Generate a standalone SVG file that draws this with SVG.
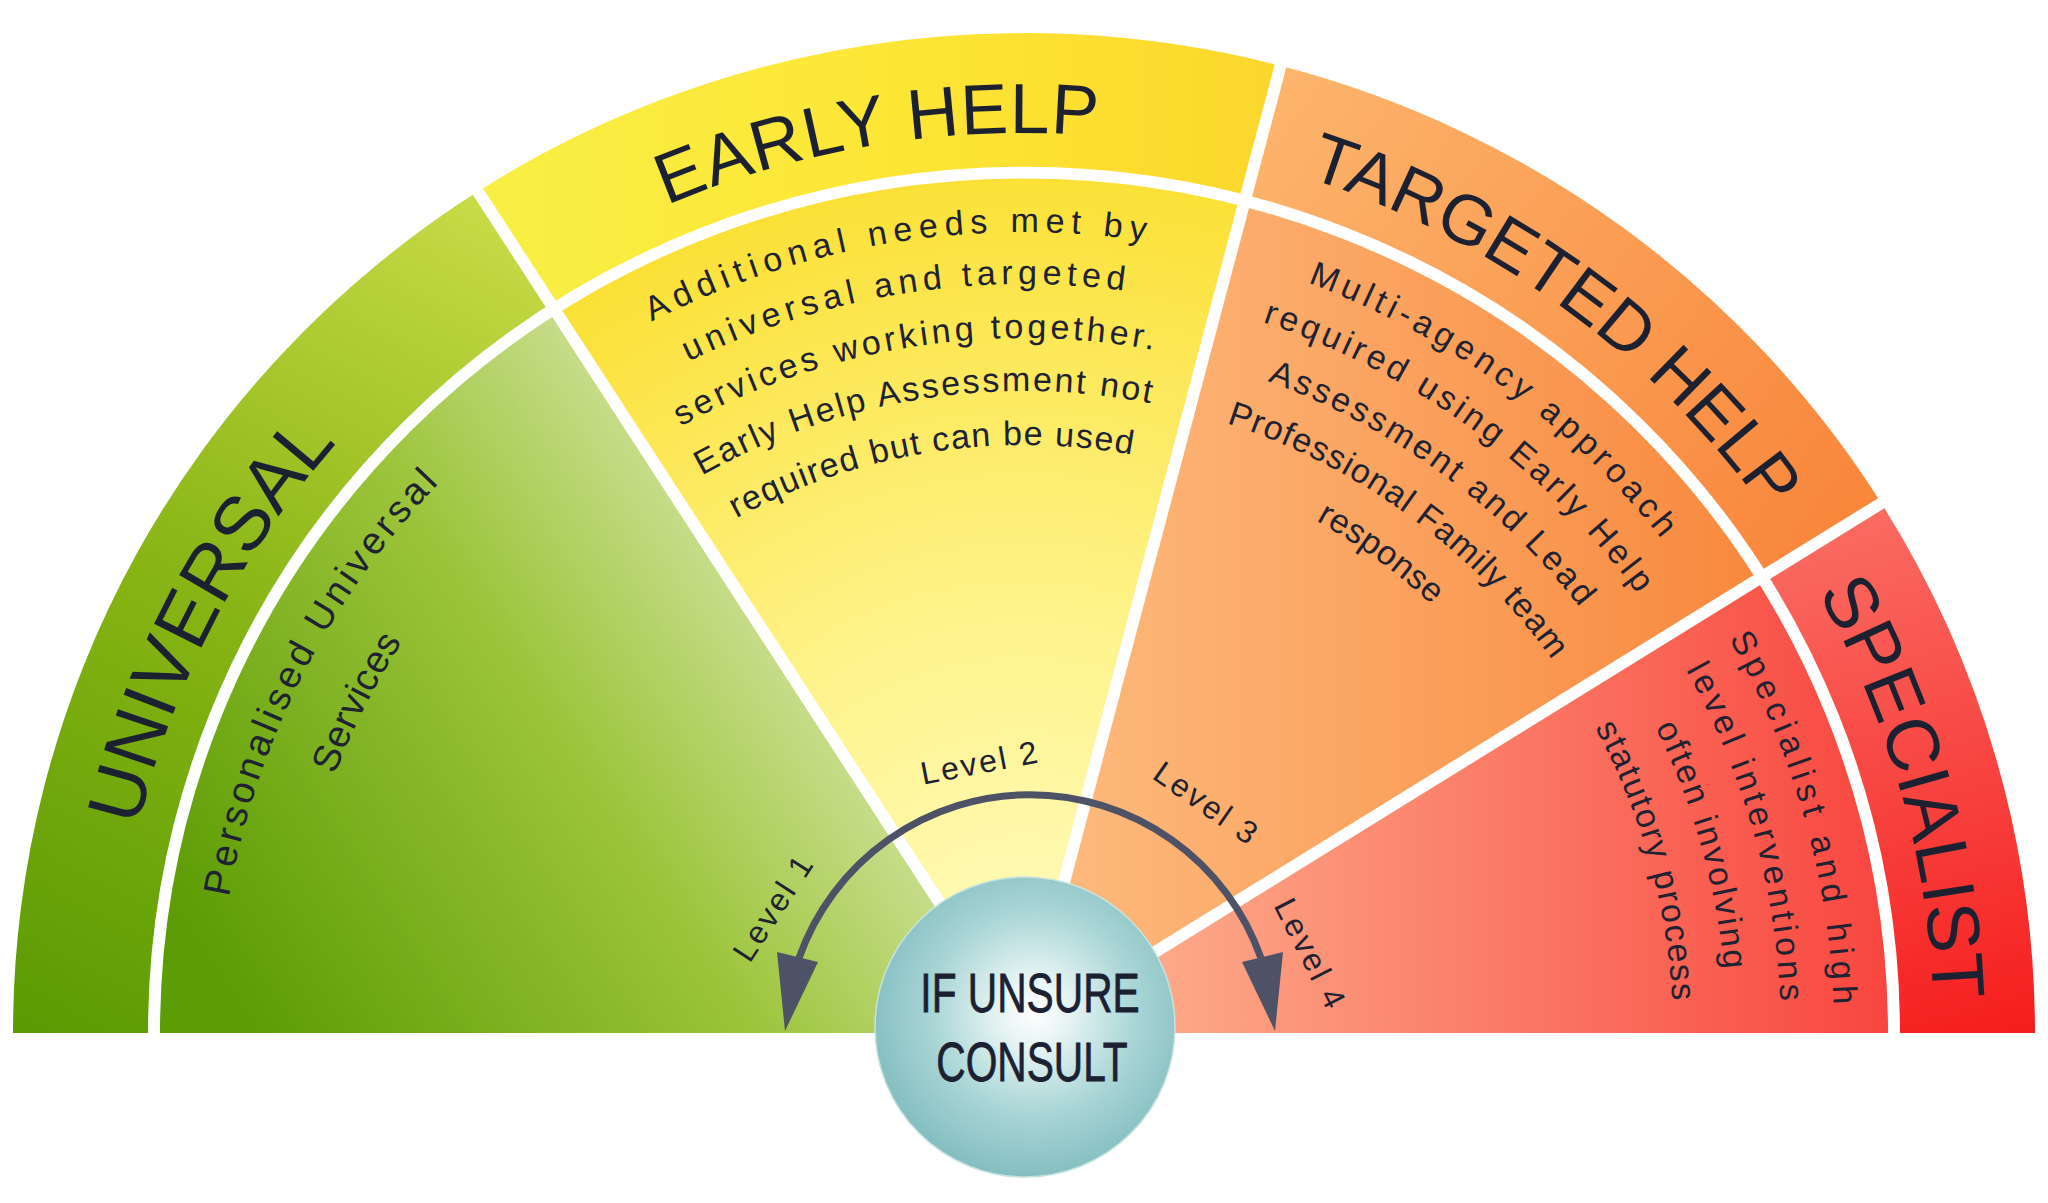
<svg xmlns="http://www.w3.org/2000/svg" width="2048" height="1203" viewBox="0 0 2048 1203">
<style>
.ttl{font-family:"Liberation Sans",Arial,sans-serif;fill:#1c2132;}
.dsc{font-family:"Liberation Sans",Arial,sans-serif;fill:#1e2233;font-size:34px;}
.lvl{font-family:"Liberation Sans",Arial,sans-serif;fill:#1e2233;font-size:32px;letter-spacing:2.5px;}
.ctr{font-family:"Liberation Sans",Arial,sans-serif;fill:#1c2132;font-size:55px;stroke:#1c2132;stroke-width:0.8px;}
.gap{stroke:#ffffff;stroke-width:12;fill:none;}
</style>
<defs>
<linearGradient id="gUb" gradientUnits="userSpaceOnUse" x1="-1011" y1="0" x2="-546" y2="-851">
<stop offset="0" stop-color="#5a9a02"/><stop offset="0.5" stop-color="#88b515"/><stop offset="1" stop-color="#c9db48"/>
</linearGradient>
<linearGradient id="gUd" gradientUnits="userSpaceOnUse" x1="-270" y1="-421" x2="-817" y2="-70">
<stop offset="0" stop-color="#c6dd8a"/><stop offset="0.35" stop-color="#9cc43a"/><stop offset="1" stop-color="#5c9c05"/>
</linearGradient>
<linearGradient id="gEb" gradientUnits="userSpaceOnUse" x1="-546" y1="-900" x2="257" y2="-900">
<stop offset="0" stop-color="#f8ef45"/><stop offset="0.5" stop-color="#fde636"/><stop offset="1" stop-color="#fbd72c"/>
</linearGradient>
<radialGradient id="gEd" gradientUnits="userSpaceOnUse" cx="0" cy="-60" r="820">
<stop offset="0" stop-color="#fffbbd"/><stop offset="0.45" stop-color="#fef38a"/><stop offset="1" stop-color="#fbe034"/>
</radialGradient>
<linearGradient id="gTb" gradientUnits="userSpaceOnUse" x1="257" y1="-978" x2="857" y2="-536">
<stop offset="0" stop-color="#fdb56d"/><stop offset="1" stop-color="#f8853a"/>
</linearGradient>
<linearGradient id="gTd" gradientUnits="userSpaceOnUse" x1="0" y1="-300" x2="760" y2="-300">
<stop offset="0" stop-color="#fdbc80"/><stop offset="1" stop-color="#f8873b"/>
</linearGradient>
<linearGradient id="gSb" gradientUnits="userSpaceOnUse" x1="857" y1="-536" x2="1011" y2="0">
<stop offset="0" stop-color="#fa6c63"/><stop offset="1" stop-color="#f51d1d"/>
</linearGradient>
<linearGradient id="gSd" gradientUnits="userSpaceOnUse" x1="120" y1="0" x2="864" y2="0">
<stop offset="0" stop-color="#fdab8a"/><stop offset="1" stop-color="#f8463f"/>
</linearGradient>
<radialGradient id="gC" cx="0.53" cy="0.45" r="0.62">
<stop offset="0" stop-color="#ffffff"/><stop offset="0.2" stop-color="#e4f3f2"/><stop offset="0.55" stop-color="#a9d5d6"/><stop offset="1" stop-color="#79b7ba"/>
</radialGradient>
<path id="p910" d="M 114 1033 A 910 900 0 0 1 1934 1033"/>
<path id="p810" d="M 214 1033 A 810 801 0 0 1 1834 1033"/>
<path id="p807" d="M 217 1033 A 807 798 0 0 1 1831 1033"/>
<path id="p757" d="M 267 1033 A 757 749 0 0 1 1781 1033"/>
<path id="p737" d="M 287 1033 A 737 729 0 0 1 1761 1033"/>
<path id="p703" d="M 321 1033 A 703 695 0 0 1 1727 1033"/>
<path id="p649" d="M 375 1033 A 649 642 0 0 1 1673 1033"/>
<path id="p595" d="M 429 1033 A 595 588 0 0 1 1619 1033"/>
</defs>

<g id="universal">
<g transform="translate(1024,1033) scale(1,0.989)">
<path d="M -1011 0 A 1011 1011 0 0 1 -546.2 -850.8 L -470.0 -732.1 A 870 870 0 0 0 -870 0 Z" fill="url(#gUb)"/>
<path d="M 0 0 L -870 0 A 870 870 0 0 1 -470.0 -732.1 Z" fill="url(#gUd)"/>
</g>
<text class="ttl" font-size="77" text-anchor="middle"><textPath href="#p910" startOffset="15.0%">UNIVERSAL</textPath></text>
<text class="dsc" text-anchor="middle" style="font-size:38px;letter-spacing:3.9px"><textPath href="#p807" startOffset="14.83%">Personalised Universal</textPath></text>
<text class="dsc" text-anchor="middle" style="font-size:38px;letter-spacing:0.5px"><textPath href="#p737" startOffset="14.72%">Services</textPath></text>
</g>

<g id="early-help">
<g transform="translate(1024,1033) scale(1,0.989)">
<path d="M -546.2 -850.8 A 1011 1011 0 0 1 256.6 -977.9 L 220.8 -841.6 A 870 870 0 0 0 -470.0 -732.1 Z" fill="url(#gEb)"/>
<path d="M 0 0 L -470.0 -732.1 A 870 870 0 0 1 220.8 -841.6 Z" fill="url(#gEd)"/>
</g>
<text class="ttl" font-size="71" text-anchor="middle" letter-spacing="1"><textPath href="#p910" startOffset="44.86%">EARLY HELP</textPath></text>
<text class="dsc" text-anchor="middle" letter-spacing="6.6"><textPath href="#p810" startOffset="44.89%">Additional needs met by</textPath></text>
<text class="dsc" text-anchor="middle" letter-spacing="5.3"><textPath href="#p757" startOffset="44.89%">universal and targeted</textPath></text>
<text class="dsc" text-anchor="middle" letter-spacing="3.8"><textPath href="#p703" startOffset="44.89%">services working together.</textPath></text>
<text class="dsc" text-anchor="middle" letter-spacing="2.4"><textPath href="#p649" startOffset="44.89%">Early Help Assessment not</textPath></text>
<text class="dsc" text-anchor="middle" letter-spacing="1.4"><textPath href="#p595" startOffset="44.89%">required but can be used</textPath></text>
</g>

<g id="targeted-help">
<g transform="translate(1024,1033) scale(1,0.989)">
<path d="M 256.6 -977.9 A 1011 1011 0 0 1 857.3 -535.7 L 737.8 -461.0 A 870 870 0 0 0 220.8 -841.6 Z" fill="url(#gTb)"/>
<path d="M 0 0 L 220.8 -841.6 A 870 870 0 0 1 737.8 -461.0 Z" fill="url(#gTd)"/>
</g>
<text class="ttl" font-size="70" text-anchor="middle"><textPath href="#p910" startOffset="70.28%">TARGETED HELP</textPath></text>
<text class="dsc" text-anchor="middle" letter-spacing="4.9"><textPath href="#p810" startOffset="70.28%">Multi-agency approach</textPath></text>
<text class="dsc" text-anchor="middle" letter-spacing="3.7"><textPath href="#p757" startOffset="70.28%">required using Early Help</textPath></text>
<text class="dsc" text-anchor="middle" letter-spacing="3"><textPath href="#p703" startOffset="70.28%">Assessment and Lead</textPath></text>
<text class="dsc" text-anchor="middle" letter-spacing="1.2"><textPath href="#p649" startOffset="70.28%">Professional Family team</textPath></text>
<text class="dsc" text-anchor="middle" letter-spacing="0.5"><textPath href="#p595" startOffset="70.28%">response</textPath></text>
</g>

<g id="specialist">
<g transform="translate(1024,1033) scale(1,0.989)">
<path d="M 857.3 -535.7 A 1011 1011 0 0 1 1011 0 L 870 0 A 870 870 0 0 0 737.8 -461.0 Z" fill="url(#gSb)"/>
<path d="M 0 0 L 737.8 -461.0 A 870 870 0 0 1 870 0 Z" fill="url(#gSd)"/>
</g>
<text class="ttl" font-size="74" text-anchor="middle"><textPath href="#p910" startOffset="91.31%">SPECIALIST</textPath></text>
<text class="dsc" text-anchor="middle" letter-spacing="5.5"><textPath href="#p810" startOffset="91.39%">Specialist and high</textPath></text>
<text class="dsc" text-anchor="middle" letter-spacing="4.2"><textPath href="#p757" startOffset="91.39%">level interventions</textPath></text>
<text class="dsc" text-anchor="middle" letter-spacing="2.55"><textPath href="#p703" startOffset="91.39%">often involving</textPath></text>
<text class="dsc" text-anchor="middle" letter-spacing="1.7"><textPath href="#p649" startOffset="91.39%">statutory process</textPath></text>
</g>

<g id="gaps" transform="translate(1024,1033) scale(1,0.989)">
<path class="gap" d="M -870 0 A 870 870 0 0 1 870 0"/>
<line class="gap" x1="0" y1="0" x2="-556.4" y2="-866.8"/>
<line class="gap" x1="0" y1="0" x2="261.4" y2="-996.3"/>
<line class="gap" x1="0" y1="0" x2="873.5" y2="-545.8"/>
</g>

<g id="if-unsure-consult">
<circle cx="1025" cy="1027" r="150" fill="url(#gC)" stroke="#c7e3df" stroke-width="1.5"/>
<text class="ctr" text-anchor="middle" transform="translate(1030,1012) scale(0.74,1)">IF UNSURE</text>
<text class="ctr" text-anchor="middle" transform="translate(1032,1081) scale(0.74,1)">CONSULT</text>
</g>

<g id="connectors">
<path d="M 799 958 A 245 245 0 0 1 1261 958" fill="none" stroke="#4d5267" stroke-width="7"/>
<polygon points="777,952 818,962 785,1031" fill="#4d5267"/>
<polygon points="1242,962 1283,952 1275,1031" fill="#4d5267"/>
<text class="lvl" text-anchor="middle" dy="0.36em" transform="translate(773,907) rotate(-57)">Level 1</text>
<text class="lvl" text-anchor="middle" dy="0.36em" transform="translate(980,762) rotate(-11)">Level 2</text>
<text class="lvl" text-anchor="middle" dy="0.36em" transform="translate(1207,803) rotate(35)">Level 3</text>
<text class="lvl" text-anchor="middle" dy="0.36em" transform="translate(1311,954) rotate(63)">Level 4</text>
</g>
</svg>
